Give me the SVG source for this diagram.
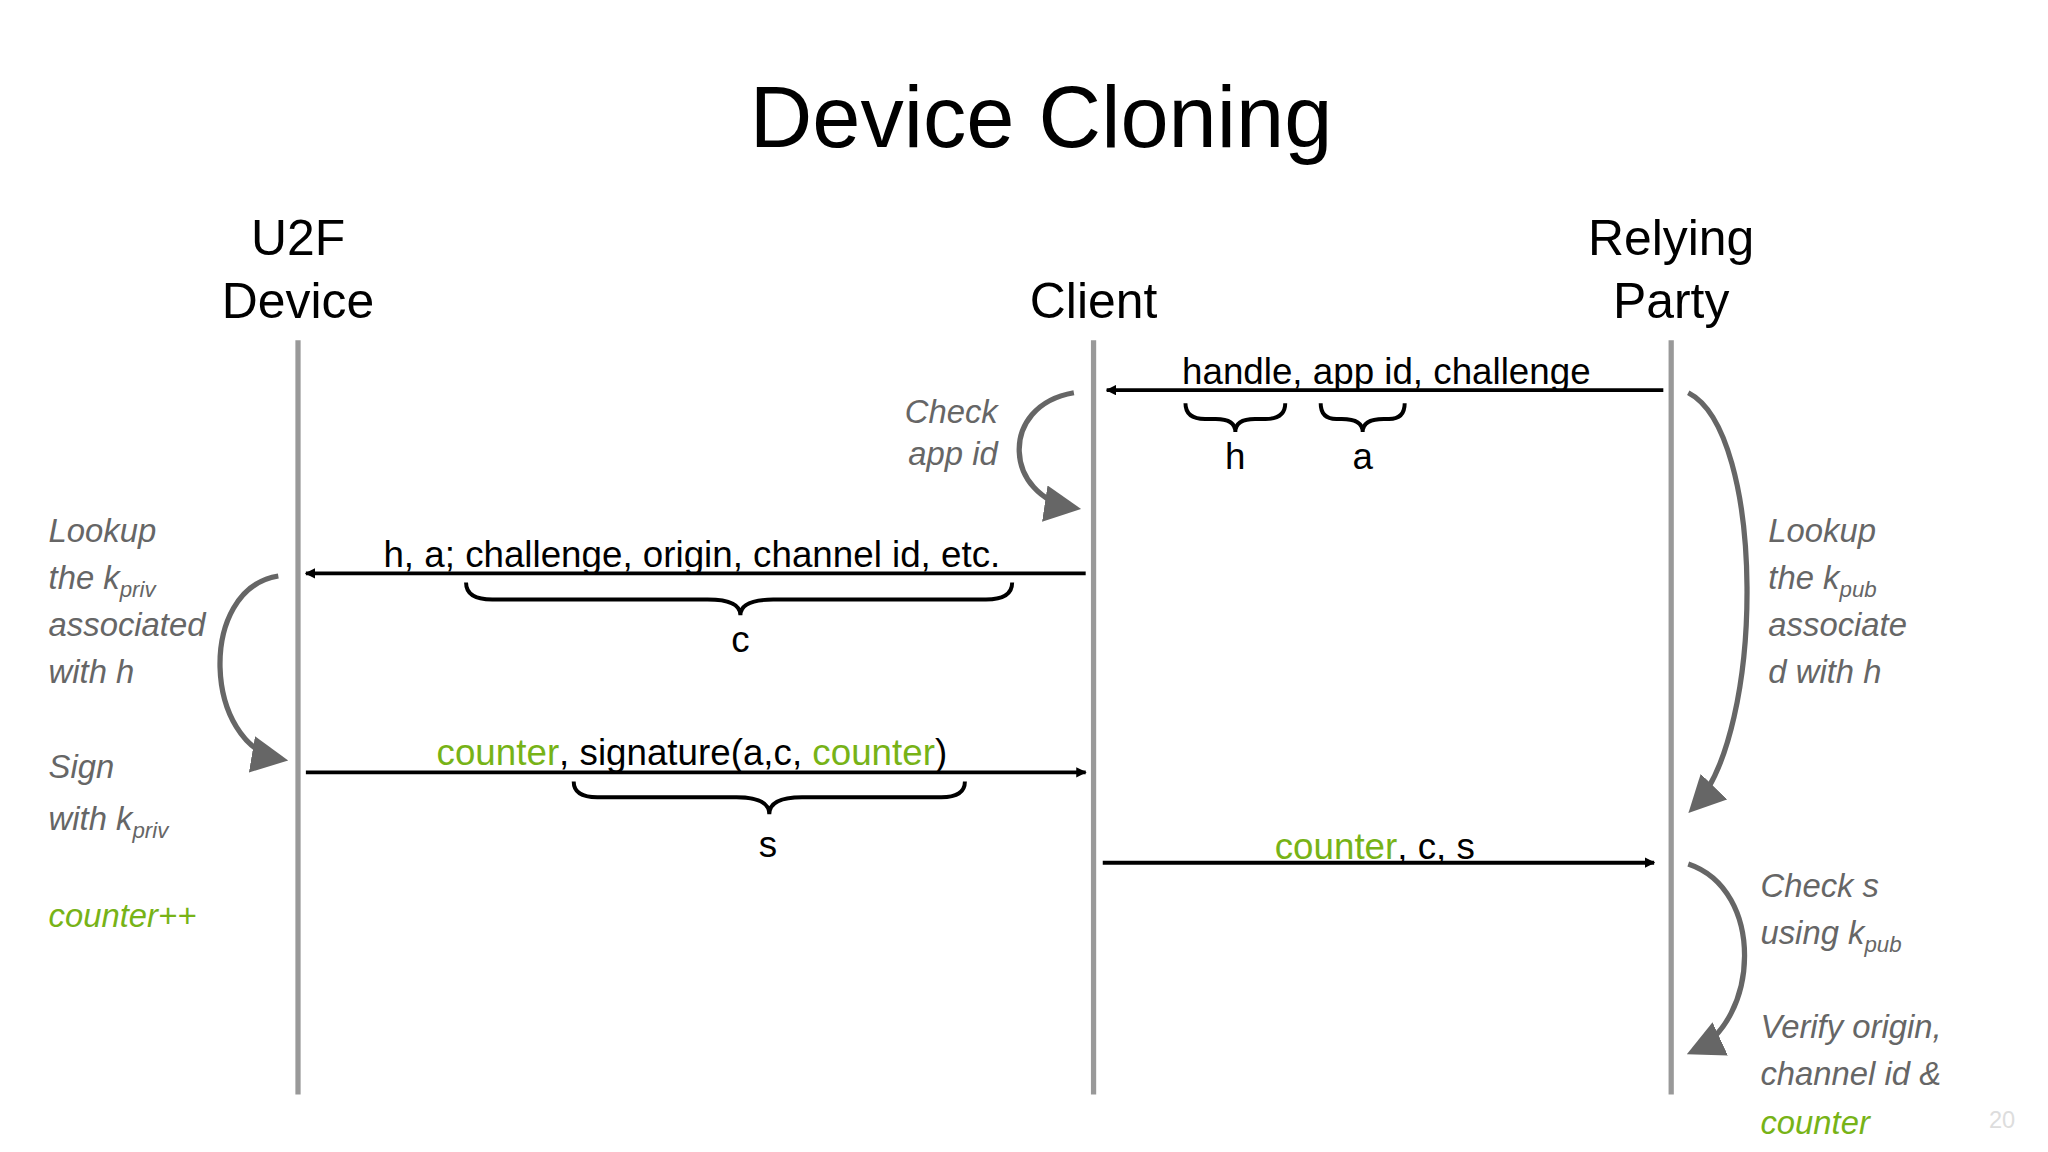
<svg xmlns="http://www.w3.org/2000/svg" width="2048" height="1152" viewBox="0 0 2048 1152">
<defs>
<style>
text{font-family:"Liberation Sans",Arial,sans-serif}
.h{font-size:38px;fill:#000;text-anchor:middle}
.m{font-size:28px;fill:#000}
.n{font-size:25px;fill:#666;font-style:italic}
.g{fill:#77b317}
.life{stroke:#999;stroke-width:4}
.msg{stroke:#000;stroke-width:3;fill:none}
.br{stroke:#000;stroke-width:3;fill:none}
.cv{stroke:#666;stroke-width:4;fill:none}
</style>
<marker id="ah" viewBox="0 0 10 10" refX="9" refY="5" markerWidth="8" markerHeight="8" markerUnits="userSpaceOnUse" orient="auto"><path d="M0,0L10,5L0,10z" fill="#000"/></marker>
<marker id="gh" viewBox="0 0 10 10" refX="8" refY="5" markerWidth="7" markerHeight="7" orient="auto"><path d="M0,0L10,5L0,10z" fill="#666"/></marker>
</defs>
<rect width="2048" height="1152" fill="#fff"/>
<g transform="scale(1.3128,1.3091)">
<text x="793" y="112" font-size="66" text-anchor="middle">Device Cloning</text>
<g id="device"><text class="h" x="227" y="195">U2F</text><text class="h" x="227" y="243">Device</text><line class="life" x1="227" y1="260" x2="227" y2="836"/></g>
<g id="client"><text class="h" x="833" y="243">Client</text><line class="life" x1="833" y1="260" x2="833" y2="836"/></g>
<g id="rp"><text class="h" x="1273" y="195">Relying</text><text class="h" x="1273" y="243">Party</text><line class="life" x1="1273" y1="260" x2="1273" y2="836"/></g>
<g id="connectors">
<line class="msg" x1="1267" y1="298" x2="843" y2="298" marker-end="url(#ah)"/>
<line class="msg" x1="827" y1="438" x2="233" y2="438" marker-end="url(#ah)"/>
<line class="msg" x1="233" y1="590" x2="827" y2="590" marker-end="url(#ah)"/>
<line class="msg" x1="840" y1="659" x2="1260" y2="659" marker-end="url(#ah)"/>
<path class="cv" d="M818,300 C760,310 765,380 818,388" marker-end="url(#gh)"/>
<path class="cv" d="M212,440 C150,450 155,570 214,580" marker-end="url(#gh)"/>
<path class="cv" d="M1286,300 C1345,330 1345,560 1290,617" marker-end="url(#gh)"/>
<path class="cv" d="M1286,660 C1345,680 1340,780 1290,803" marker-end="url(#gh)"/>
<path class="br" d="M903,308 q0,12 15,12 h8 q15,0 15,10 q0,-10 15,-10 h8 q15,0 15,-12"/>
<path class="br" d="M1006,308 q0,12 12,12 h4 q16,0 16,10 q0,-10 16,-10 h4 q12,0 12,-12"/>
<path class="br" d="M355,445 q0,13 20,13 h164 q25,0 25,12 q0,-12 25,-12 h162 q20,0 20,-13"/>
<path class="br" d="M437,597 q0,12 18,12 h106 q25,0 25,13 q0,-13 25,-13 h106 q18,0 18,-12"/>
</g>
<g id="labels">
<text class="m" x="1056" y="293" text-anchor="middle">handle, app id, challenge</text>
<text class="m" x="941" y="358" text-anchor="middle">h</text>
<text class="m" x="1038" y="358" text-anchor="middle">a</text>
<text class="m" x="527" y="433" text-anchor="middle">h, a; challenge, origin, channel id, etc.</text>
<text class="m" x="564" y="498" text-anchor="middle">c</text>
<text class="m" x="527" y="584" text-anchor="middle"><tspan class="g">counter</tspan>, signature(a,c, <tspan class="g">counter</tspan>)</text>
<text class="m" x="585" y="655" text-anchor="middle">s</text>
<text class="m" x="971" y="656"><tspan class="g">counter</tspan>, c, s</text>
<text class="n" x="760" y="323" text-anchor="end">Check</text>
<text class="n" x="760" y="355" text-anchor="end">app id</text>
<text class="n" x="37" y="414">Lookup</text>
<text class="n" x="37" y="450">the k<tspan font-size="17" dy="6">priv</tspan></text>
<text class="n" x="37" y="486">associated</text>
<text class="n" x="37" y="522">with h</text>
<text class="n" x="37" y="594">Sign</text>
<text class="n" x="37" y="634">with k<tspan font-size="17" dy="6">priv</tspan></text>
<text class="n g" x="37" y="708">counter++</text>
<text class="n" x="1347" y="414">Lookup</text>
<text class="n" x="1347" y="450">the k<tspan font-size="17" dy="6">pub</tspan></text>
<text class="n" x="1347" y="486">associate</text>
<text class="n" x="1347" y="522">d with h</text>
<text class="n" x="1341" y="685">Check s</text>
<text class="n" x="1341" y="721">using k<tspan font-size="17" dy="6">pub</tspan></text>
<text class="n" x="1341" y="793">Verify origin,</text>
<text class="n" x="1341" y="829">channel id &amp;</text>
<text class="n g" x="1341" y="866">counter</text>
<text x="1525" y="862" font-size="18" fill="#ddd" text-anchor="middle">20</text>
</g>
</g>
</svg>
